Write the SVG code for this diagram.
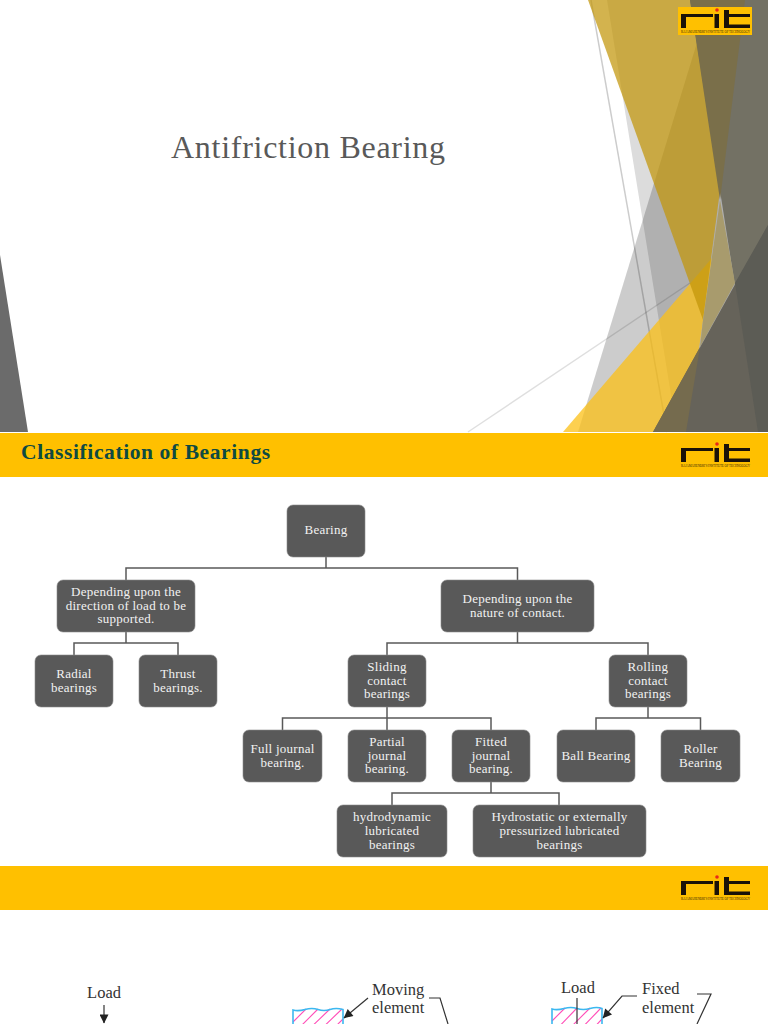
<svg xmlns="http://www.w3.org/2000/svg" width="768" height="1024" viewBox="0 0 768 1024">
<style>
.f{font-family:"Liberation Serif","DejaVu Serif",serif}
.n rect{fill:#595959;stroke:#8a8a8a;stroke-width:.6}
.n text{font-family:"Liberation Serif","DejaVu Serif",serif;font-size:13px;letter-spacing:.25px;fill:#f2f2f2;text-anchor:middle}
.c{fill:none;stroke:#595959;stroke-width:1.5}
.d{font-family:"Liberation Serif",serif;font-size:16.5px;fill:#333}
.l{fill:none;stroke:#333;stroke-width:1.2}
.cy{fill:none;stroke:#3cb8f0;stroke-width:1.6}
.h{stroke:#ff4fb8;stroke-width:1.1}
</style>
<defs>
<g id="logo">
<path d="M681 28V14H713V17H686V28ZM714.500 14H719V28H714.500ZM724 10H729V14H750V17H729V24.500H750V28H724Z" fill="#1a1208"/>
<circle cx="717" cy="10" r="1.800" fill="#e8281a"/>
<text class="f" x="681" y="32.500" font-size="3.400" textLength="69" lengthAdjust="spacingAndGlyphs" fill="#33250a">RAJAMAHENDRI'S INSTITUTE OF TECHNOLOGY</text>
</g>
<marker id="ah" viewBox="0 0 10 10" refX="9.500" refY="5" markerWidth="14" markerHeight="9" markerUnits="userSpaceOnUse" orient="auto"><path d="M0 0L10 5L0 10Z" fill="#222"/></marker>
</defs>
<rect width="768" height="1024" fill="#fff"/>

<!-- title slide art -->
<path d="M0 255L28 432H0Z" fill="#6b6b6b"/>
<path d="M607 0H768V432H677Z" fill="#dcdcdc"/>
<path d="M591 0L667 432" stroke="#000" stroke-opacity=".2" stroke-width="1.5" fill="none"/>
<path d="M710 0L578 432H768V0Z" fill="#000" fill-opacity=".2"/>
<path d="M468 432L690 283" stroke="#000" stroke-opacity=".13" stroke-width="1.5" fill="none"/>
<path d="M563 432L712 258L687 432Z" fill="#fcc015" fill-opacity=".75"/>
<path d="M588 0H745L703 320Z" fill="#c2950a" fill-opacity=".72"/>
<path d="M690 0H768V432H758Z" fill="#737164"/>
<path d="M690 0H745L720 200Z" fill="#7a6f4a"/>
<path d="M720 200L735 283L700 347L703 320Z" fill="#a89b6d"/>
<path d="M653 432L768 225V432Z" fill="#66635a"/>
<path d="M653 432L700 347L686 432Z" fill="#756b4e"/>
<path d="M735 283L768 225V432H758Z" fill="#5c5c55"/>
<rect x="678" y="7" width="74" height="28" fill="#ffc000"/>
<use href="#logo"/>
<text class="f" x="171" y="158" font-size="32" fill="#595959" letter-spacing=".72">Antifriction Bearing</text>

<!-- bands -->
<rect y="433" width="768" height="44" fill="#ffc000"/>
<use href="#logo" y="434"/>
<text class="f" x="21" y="459" font-size="21.500" font-weight="bold" fill="#0e4a42" letter-spacing=".6">Classification of Bearings</text>
<rect y="866" width="768" height="44" fill="#ffc000"/>
<use href="#logo" y="867"/>

<!-- connectors -->
<g id="connectors">
<path class="c" d="M326 557V568M126 580V568H517.500V580"/>
<path class="c" d="M126 632V643M74 655V643H178V655"/>
<path class="c" d="M517.500 632V643M387 655V643H648V655"/>
<path class="c" d="M387 707V730M282.500 730V718H491V730"/>
<path class="c" d="M648 707V718M596 730V718H700.500V730"/>
<path class="c" d="M491 782V793M392 805V793H559V805"/>
</g>

<g id="n-bearing" class="n"><rect x="287" y="505" width="78" height="52" rx="6"/><text x="326" y="534">Bearing</text></g>
<g id="n-load" class="n"><rect x="57" y="580" width="138" height="52" rx="6"/><text x="126" y="596">Depending upon the</text><text x="126" y="609.500">direction of load to be</text><text x="126" y="623">supported.</text></g>
<g id="n-contact" class="n"><rect x="441" y="580" width="153" height="52" rx="6"/><text x="517.500" y="603">Depending upon the</text><text x="517.500" y="616.500">nature of contact.</text></g>
<g id="n-radial" class="n"><rect x="35" y="655" width="78" height="52" rx="6"/><text x="74" y="678">Radial</text><text x="74" y="691.500">bearings</text></g>
<g id="n-thrust" class="n"><rect x="139" y="655" width="78" height="52" rx="6"/><text x="178" y="678">Thrust</text><text x="178" y="691.500">bearings.</text></g>
<g id="n-sliding" class="n"><rect x="348" y="655" width="78" height="52" rx="6"/><text x="387" y="671">Sliding</text><text x="387" y="685">contact</text><text x="387" y="698">bearings</text></g>
<g id="n-rolling" class="n"><rect x="609" y="655" width="78" height="52" rx="6"/><text x="648" y="671">Rolling</text><text x="648" y="685">contact</text><text x="648" y="698">bearings</text></g>
<g id="n-full" class="n"><rect x="243" y="730" width="79" height="52" rx="6"/><text x="282.500" y="753">Full journal</text><text x="282.500" y="767">bearing.</text></g>
<g id="n-partial" class="n"><rect x="348" y="730" width="78" height="52" rx="6"/><text x="387" y="746">Partial</text><text x="387" y="760">journal</text><text x="387" y="773">bearing.</text></g>
<g id="n-fitted" class="n"><rect x="452" y="730" width="78" height="52" rx="6"/><text x="491" y="746">Fitted</text><text x="491" y="760">journal</text><text x="491" y="773">bearing.</text></g>
<g id="n-ball" class="n"><rect x="557" y="730" width="78" height="52" rx="6"/><text x="596" y="760">Ball Bearing</text></g>
<g id="n-roller" class="n"><rect x="661" y="730" width="79" height="52" rx="6"/><text x="700.500" y="753">Roller</text><text x="700.500" y="767">Bearing</text></g>
<g id="n-hydro" class="n"><rect x="337" y="805" width="110" height="52" rx="6"/><text x="392" y="821">hydrodynamic</text><text x="392" y="835">lubricated</text><text x="392" y="849">bearings</text></g>
<g id="n-hydrostatic" class="n"><rect x="473" y="805" width="173" height="52" rx="6"/><text x="559.500" y="821">Hydrostatic or externally</text><text x="559.500" y="835">pressurized lubricated</text><text x="559.500" y="849">bearings</text></g>

<!-- bottom figure -->
<text class="d" x="104" y="998" text-anchor="middle">Load</text>
<path class="l" d="M104 1005V1023" marker-end="url(#ah)"/>

<path class="h" d="M293 1022L306 1009M293 1034L318 1009M304 1034L330 1009M316 1034L342 1009M328 1034L343 1019"/>
<path class="cy" d="M293 1024V1010Q298 1011.500 305 1009.500T318 1009.500T330 1009.500T343 1009.500V1024"/>
<text class="d" x="372" y="995">Moving</text>
<text class="d" x="372" y="1013">element</text>
<path class="l" d="M368 998L344 1018" marker-end="url(#ah)"/>
<path class="l" d="M429 998H440L448 1024"/>

<path class="h" d="M552 1021L565 1008M552 1034L577 1008M564 1034L590 1008M576 1034L601 1008M588 1034L602 1019"/>
<path class="cy" d="M552 1024V1009Q557 1010.500 564 1008.500T577 1008.500T590 1008.500T602 1008.500V1024"/>
<path class="l" d="M577 998V1024"/>
<text class="d" x="561" y="993">Load</text>
<text class="d" x="642" y="994">Fixed</text>
<text class="d" x="642" y="1013">element</text>
<path class="l" d="M637 996H622L603 1018" marker-end="url(#ah)"/>
<path class="l" d="M697 994H711L697 1024"/>
</svg>
